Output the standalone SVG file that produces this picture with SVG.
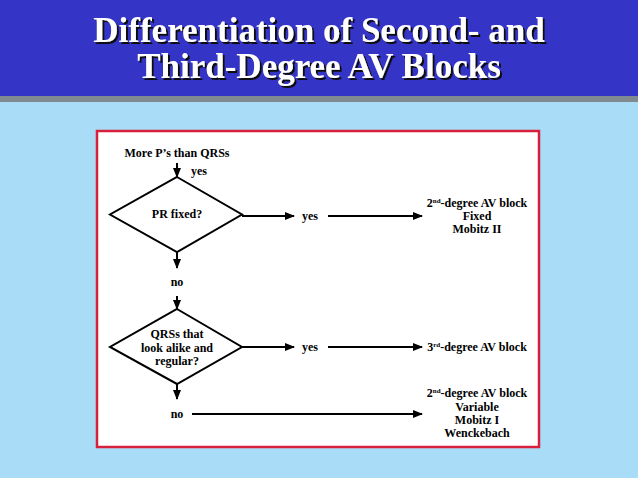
<svg xmlns="http://www.w3.org/2000/svg" width="638" height="478" viewBox="0 0 638 478">
<defs>
<marker id="ah" markerWidth="10" markerHeight="8" refX="9" refY="4" orient="auto" markerUnits="userSpaceOnUse"><path d="M0,0 L10,4 L0,8 z" fill="#000"/></marker>
<filter id="sh" x="-5%" y="-20%" width="110%" height="140%"><feDropShadow dx="2" dy="2" stdDeviation="0.3" flood-color="#111"/></filter>
</defs>
<style>
.t{font-family:"Liberation Serif",serif;font-weight:bold;font-size:12px;fill:#000;text-anchor:middle}
.ttl{font-family:"Liberation Serif",serif;font-weight:bold;font-size:35px;text-anchor:middle;fill:#fff;filter:url(#sh)}
.c{stroke:#000;stroke-width:2;fill:none;marker-end:url(#ah)}
.d{fill:#fff;stroke:#000;stroke-width:2}
</style>
<rect width="638" height="478" fill="#a9dcf6"/>
<rect width="638" height="96" fill="#3434c6"/>
<rect y="96" width="638" height="6" fill="#808890"/>
<g id="title">
<text class="ttl" x="319" y="42">Differentiation of Second- and</text>
<text class="ttl" x="319" y="78">Third-Degree AV Blocks</text>
</g>
<rect x="97" y="131" width="442" height="316" fill="#fff" stroke="#d8203c" stroke-width="2.5"/>
<g id="start"><text class="t" x="177" y="157">More P’s than QRSs</text></g>
<g id="d1"><polygon class="d" points="177,177 242,214.5 177,252 110,214.5"/><text class="t" x="177" y="218">PR fixed?</text></g>
<g id="d2"><polygon class="d" points="177,309 242,347 177,384 110,347"/>
<text class="t" x="177" y="338">QRSs that</text><text class="t" x="177" y="352">look alike and</text><text class="t" x="177" y="365">regular?</text></g>
<g id="r1"><text class="t" x="477" y="207">2<tspan font-size="7" dy="-4">nd</tspan><tspan dy="4">-degree AV block</tspan></text><text class="t" x="477" y="220">Fixed</text><text class="t" x="477" y="233">Mobitz II</text></g>
<g id="r2"><text class="t" x="477" y="351">3<tspan font-size="7" dy="-4">rd</tspan><tspan dy="4">-degree AV block</tspan></text></g>
<g id="r3"><text class="t" x="477" y="397">2<tspan font-size="7" dy="-4">nd</tspan><tspan dy="4">-degree AV block</tspan></text><text class="t" x="477" y="411">Variable</text><text class="t" x="477" y="424">Mobitz I</text><text class="t" x="477" y="437">Wenckebach</text></g>
<g id="connectors">
<line class="c" x1="177" y1="163" x2="177" y2="177"/>
<line class="c" x1="242" y1="216" x2="294" y2="216"/>
<line class="c" x1="328" y1="216" x2="422" y2="216"/>
<line class="c" x1="177" y1="252" x2="177" y2="268"/>
<line class="c" x1="177" y1="296" x2="177" y2="309"/>
<line class="c" x1="242" y1="347" x2="294" y2="347"/>
<line class="c" x1="328" y1="347" x2="422" y2="347"/>
<line class="c" x1="177" y1="384" x2="177" y2="399"/>
<line class="c" x1="192" y1="414" x2="422" y2="414"/>
<text class="t" x="199" y="175">yes</text>
<text class="t" x="310" y="220">yes</text>
<text class="t" x="177" y="286">no</text>
<text class="t" x="310" y="351">yes</text>
<text class="t" x="177" y="418">no</text>
</g>
</svg>
